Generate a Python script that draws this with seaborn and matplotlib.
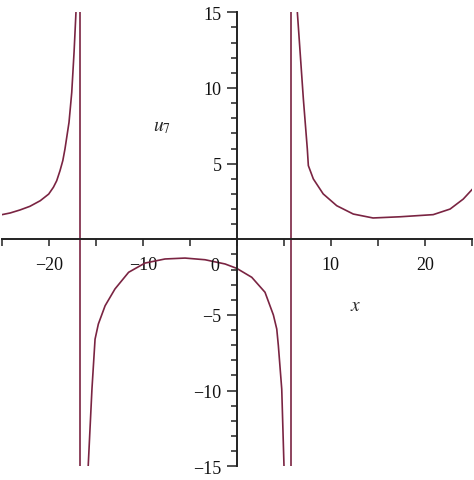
import numpy as np
import pandas as pd
import matplotlib
matplotlib.use("Agg")
import matplotlib.pyplot as plt
import seaborn as sns
from matplotlib.ticker import MultipleLocator, FixedLocator

# ---- data ----
left_x = [-25.2, -24.1, -23.05, -22.0, -20.9, -20.0, -19.5, -19.15, -18.8, -18.5,
          -18.27, -17.84, -17.55, -17.3, -17.1]
left_y = [1.6, 1.74, 1.94, 2.18, 2.55, 2.99, 3.44, 3.87, 4.53, 5.2,
          5.97, 7.73, 9.7, 12.4, 15.0]

mid_x = [-15.8, -15.4, -15.07, -14.72, -14.0, -12.95, -11.5, -9.76, -7.63, -5.5,
         -3.37, -1.24, 0.0, 1.6, 3.01, 3.9, 4.26, 4.43, 4.79, 5.03]
mid_y = [-15.0, -9.9, -6.6, -5.6, -4.39, -3.28, -2.18, -1.57, -1.3, -1.24,
         -1.35, -1.63, -1.92, -2.51, -3.5, -5.0, -5.93, -7.03, -9.9, -15.0]

right_x = [6.45, 7.09, 7.51, 7.62, 8.15, 9.2, 10.64, 12.4, 14.5, 17.4, 20.9, 22.7, 24.1, 25.2]
right_y = [15.0, 9.27, 5.97, 4.87, 3.99, 3.0, 2.22, 1.67, 1.41, 1.49, 1.63, 2.0, 2.66, 3.4]

asymptotes = [-16.67, 5.78]

x_ticks = [-20, -10, 10, 20]
x_labels = ["\u221220", "\u221210", "10", "20"]
y_ticks = [-15, -10, -5, 5, 10, 15]
y_labels = ["\u221215", "\u221210", "\u22125", "5", "10", "15"]

color = "#7a2442"

df = pd.concat([
    pd.DataFrame({"x": left_x, "y": left_y, "branch": "left"}),
    pd.DataFrame({"x": mid_x, "y": mid_y, "branch": "mid"}),
    pd.DataFrame({"x": right_x, "y": right_y, "branch": "right"}),
], ignore_index=True)

sns.set_style("white")
plt.rcParams["font.family"] = ["Liberation Serif", "DejaVu Serif"]
plt.rcParams["mathtext.fontset"] = "stix"

fig = plt.figure(figsize=(4.74, 4.81), dpi=100)
ax = fig.add_axes([0.0036, 0.0285, 0.9916, 0.9438])

sns.lineplot(data=df, x="x", y="y", units="branch", estimator=None, sort=False,
             color=color, linewidth=1.2, ax=ax)
ax.vlines(asymptotes, -15, 15, color=color, linewidth=1.2)

ax.set_xlim(-25, 25)
ax.set_ylim(-15, 15)
ax.set_xlabel("")
ax.set_ylabel("")

for s in ["top", "right"]:
    ax.spines[s].set_visible(False)
ax.spines["left"].set_position(("data", 0))
ax.spines["bottom"].set_position(("data", 0))
for s in ["left", "bottom"]:
    ax.spines[s].set_color("#222222")
    ax.spines[s].set_linewidth(1.4)

ax.xaxis.set_major_locator(FixedLocator(x_ticks))
ax.xaxis.set_minor_locator(MultipleLocator(5))
ax.yaxis.set_major_locator(FixedLocator(y_ticks))
ax.yaxis.set_minor_locator(MultipleLocator(1))
ax.tick_params(which="both", bottom=True, left=True, top=False, right=False)
ax.tick_params(axis="x", which="major", direction="out", length=5, width=1.1,
               colors="#222222", labelsize=13, pad=7, labelcolor="#111111")
ax.tick_params(axis="x", which="minor", direction="out", length=5, width=1.1, colors="#222222")
ax.tick_params(axis="y", which="major", direction="out", length=7, width=1.1,
               colors="#222222", labelsize=13, pad=4, labelcolor="#111111")
ax.tick_params(axis="y", which="minor", direction="out", length=4, width=1.1, colors="#222222")
ax.set_xticklabels(x_labels)
ax.set_yticklabels(y_labels)

ax.text(-2.3, -1.7, "0", fontsize=13, ha="center", va="center", color="#111111")
ax.text(-7.95, 7.45, r"$u_7$", fontsize=14, ha="center", va="center")
ax.text(12.6, -4.4, r"$x$", fontsize=14, ha="center", va="center")

fig.savefig("out.png", dpi=100)
